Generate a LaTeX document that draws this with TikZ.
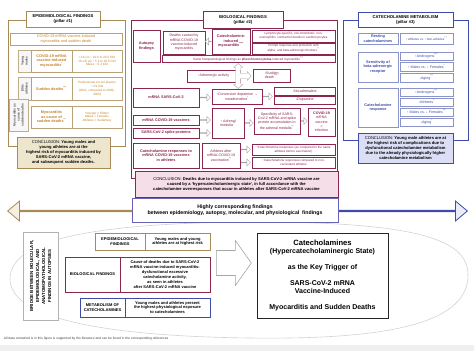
\documentclass[tikz,border=0pt]{standalone}
\usepackage{fontspec}
\setmainfont{Liberation Sans}
\usepackage{tikz}
\usetikzlibrary{arrows.meta,shapes.arrows,shadows,calc}

\definecolor{epiline}{RGB}{168,138,86}
\definecolor{epitext}{RGB}{196,132,42}
\definecolor{epifill}{RGB}{238,229,205}
\definecolor{bioline}{RGB}{140,38,78}
\definecolor{biofill}{RGB}{245,222,232}
\definecolor{metline}{RGB}{60,76,168}
\definecolor{metfill}{RGB}{220,222,245}
\definecolor{corrline}{RGB}{104,98,182}

\newcommand{\fsz}[2]{\fontsize{#1}{#2}\selectfont}

\begin{document}
\begin{tikzpicture}[
  x=1pt,y=-1pt,
  line width=0.5pt,
  every node/.style={align=center,inner sep=0.6pt,font=\fsz{3.6}{4.3}},
  wh/.style 2 args={minimum width=#1,minimum height=#2},
  pillar/.style={draw=#1,line width=0.9pt},
  pillartitle/.style={draw=#1,fill=white,line width=0.8pt,font=\fsz{4.2}{5}\bfseries,
    drop shadow={opacity=0.35,shadow xshift=0.8pt,shadow yshift=-0.8pt}},
  epicell/.style={draw=epiline!80,fill=white,line width=0.4pt,text=epitext},
  epilabel/.style={draw=epiline!70,fill=black!3,line width=0.4pt,
    font=\fsz{3.2}{3.9}\bfseries,text=black!70},
  biocell/.style={draw=bioline,fill=white,line width=0.4pt,text=bioline},
  metcell/.style={draw=metline!60,fill=white,line width=0.4pt,text=metline},
  hd/.style={font=\fsz{3.8}{4.5}\bfseries},
  sm/.style={font=\fsz{3.1}{3.8}},
  concl/.style 2 args={draw=#1,fill=#2,line width=0.8pt,font=\fsz{4.1}{5}\bfseries,
    drop shadow={opacity=0.4,shadow xshift=1pt,shadow yshift=-1pt}},
  sumcell/.style={draw=#1,fill=white,line width=0.7pt,font=\fsz{4}{4.9}\bfseries},
  hollow/.style={single arrow,draw=gray!70,fill=white,line width=0.4pt,
    minimum width=7,single arrow head extend=1.5pt,inner sep=0,anchor=tail},
  crossarrow/.style={draw=gray!70,fill=white,line width=0.4pt},
  bigarrow/.style={single arrow,line width=0.8pt,minimum width=20,
    single arrow head extend=6pt,single arrow tip angle=80,inner sep=0,anchor=tip}
]
  \useasboundingbox (0,0) rectangle (474,351);

  % Faint oval behind the summary part.
  \draw[gray!35,line width=0.6pt] (10,279) .. controls (10,240) and (90,224) .. (240,222)
    .. controls (420,221) and (468,240) .. (468,275)
    .. controls (468,320) and (400,340) .. (250,338)
    .. controls (90,336) and (10,315) .. (10,279);

  % Pillar 1: epidemiological findings.
  \draw[pillar=epiline] (8,20) rectangle (125,146);
  \node[pillartitle=epiline,wh={74}{16}] (epititle) at (63,19) {EPIDEMIOLOGICAL FINDINGS\\(pillar \#1)};
  \node[epicell,wh={112}{12},font=\fsz{3.8}{4.6}] (epiintro) at (66,39)
    {COVID-19 mRNA vaccine-induced\\myocarditis and sudden death};
  \node[epilabel,wh={22}{13},rotate=90] (epilaba) at (24.5,61) {Young\\males};
  \node[epicell,wh={41}{22},hd] (epimyo) at (51.5,61) {COVID-19 mRNA\\vaccine-induced\\myocarditis\textsuperscript{*}};
  \node[epicell,wh={50}{22},sm] (epimyoval) at (97,61)
    {<\,16 y/o ↑ 10.6 to 20.5 fold\\16--29 y/o ↑ 5.2 to 20.5 fold\\Males ↑ 6.4 fold};
  \node[epilabel,wh={23}{13},rotate=90] (epilabb) at (24.5,88.5) {Elite\\athletes};
  \node[epicell,wh={41}{23},hd] (episud) at (51.5,88.5) {Sudden deaths\textsuperscript{***}};
  \node[epicell,wh={50}{23},sm] (episudval) at (97,88.5)
    {Professional soccer players\\↑ 4.9 fold\\(2021, compared to 2009--\\2020)};
  \node[epilabel,wh={32}{19},rotate=90] (epilabc) at (18.5,115) {Myocarditis as\\cause of\\sudden deaths};
  \node[epicell,wh={41}{22},hd] (epicause) at (51.5,117) {Myocarditis\\as cause of\\sudden deaths\textsuperscript{**}};
  \node[epicell,wh={50}{22},sm] (epicauseval) at (97,117)
    {Younger > Elders\\Males > Females\\Athletes > Sedentary};
  \node[concl={epiline}{epifill},wh={93}{31}] (episum) at (63.5,152.5)
    {{\mdseries CONCLUSION:} Young males and\\young athletes are at the\\highest risk of myocarditis induced by\\SARS-CoV-2 mRNA vaccine,\\and subsequent sudden deaths.};

  % Pillar 2: biological findings.
  \draw[pillar=bioline] (131,20) rectangle (337,178);
  \node[pillartitle=bioline,wh={80}{17}] (biotitle) at (243,19.5) {BIOLOGICAL FINDINGS\\(pillar \#2)};
  \node[biocell,wh={27}{32},hd] (autopsy) at (146.5,46) {Autopsy\\findings};
  \node[biocell,wh={42}{23}] (deaths) at (184,42.5) {Deaths caused by\\mRNA COVID-19\\vaccine-induced\\myocarditis};
  \node[biocell,wh={38}{25},hd] (catmyo) at (231,41.5) {Catecholamine-\\induced\\myocarditis\textsuperscript{****}};
  \node[biocell,wh={83}{12},sm] (lympho) at (293.5,36)
    {Lymphocyte-specific, non-thrombotic, non-\\eosinophilic, contraction bands in cardiomyocytes};
  \node[biocell,wh={83}{11},sm] (prompt) at (293.5,48.5)
    {Prompt response and protection with\\alpha- and beta-adrenergic blockers\textsuperscript{**}};
  \node[biocell,wh={173}{7},sm] (histo) at (248.5,59)
    {Same histopathological findings as \textbf{pheochromocytoma}-induced myocarditis\textsuperscript{****}};
  \node[hollow,shape border rotate=180,minimum height=6] (toDeaths) at ($(catmyo.west)+(-0.5,0)$) {};

  \node[biocell,wh={53}{12}] (adren) at (213.5,76) {↑Adrenergic activity};
  \draw[crossarrow,shift={(adren.east)}] (-2,-12.5) -- (2.5,-8.5) -- (0.5,-8.5) -- (0.5,-2.5)
    -- (7,-2.5) -- (7,-4.5) -- (11,0) -- (7,4.5) -- (7,2.5) -- (0.5,2.5) -- (0.5,8.5)
    -- (2.5,8.5) -- (-2,12.5) -- (-6.5,8.5) -- (-4.5,8.5) -- (-4.5,-8.5) -- (-6.5,-8.5) -- cycle;
  \node[biocell,wh={37}{13}] (sudden) at (271.5,75.5) {↑Sudden\\death\textsuperscript{****}};

  \node[biocell,wh={66}{19},hd] (mrnasars) at (166,97.5) {mRNA SARS-CoV-2};
  \node[biocell,wh={50}{15}] (conv) at (237,96.5) {↑Conversion dopamine →\\noradrenaline\textsuperscript{*}};
  \node[biocell,wh={61}{8}] (nor) at (304.5,91) {↑Noradrenaline};
  \node[biocell,wh={61}{8}] (dopa) at (304.5,100) {↓Dopamine};
  \node[hollow,minimum height=10] (toConv) at ($(mrnasars.east)+(1,0)$) {};
  \node[hollow,minimum height=9] (toNor) at ($(conv.east)+(1,0)$) {};

  \node[biocell,wh={66}{10},hd] (vacc) at (166,120) {mRNA COVID-19 vaccines};
  \node[biocell,wh={66}{10},hd] (spike) at (166,133) {SARS-CoV-2 spike proteins};
  \node[biocell,wh={32}{30}] (medulla) at (228,123) {↑ Adrenal\\medulla\textsuperscript{**}};
  \node[biocell,wh={46}{26}] (spec) at (277,121)
    {Specificity of SARS-\\CoV-2 mRNA and spike\\protein accumulation in\\the adrenal medulla\textsuperscript{**}};
  \node[biocell,wh={27}{28}] (covinf) at (321.5,122) {\textbf{COVID-19}\\mRNA\\vaccine\\≈\\infection};
  \node[hollow,minimum height=10] (vaccToMed) at ($(vacc.east)+(1,0)$) {};
  \node[hollow,minimum height=10] (spikeToMed) at ($(spike.east)+(1,0)$) {};
  \node[hollow,minimum height=8] (toSpec) at ($(medulla.east)+(1,0)$) {};
  \node[hollow,minimum height=6] (toInf) at ($(spec.east)+(1,0)$) {};

  \node[biocell,wh={66}{25},hd] (athresp) at (166,155.5) {Catecholamine responses to\\mRNA COVID-19 vaccines\\in athletes};
  \node[biocell,wh={38}{25}] (athvac) at (221,155.5) {Athletes after\\mRNA-COVID-19\\vaccination\textsuperscript{**}};
  \node[biocell,wh={83}{11},sm] (respsame) at (293.5,149.5)
    {↑Catecholamine responses (as compared to the same\\athletes before vaccination)};
  \node[biocell,wh={83}{11},sm] (respnon) at (293.5,162.5)
    {↑Catecholamine responses compared to non-\\vaccinated athletes};
  \node[hollow,minimum height=9] (toSame) at ($(athvac.east |- respsame.west)+(1,0)$) {};
  \node[hollow,minimum height=9] (toNon) at ($(athvac.east |- respnon.west)+(1,0)$) {};

  \node[concl={bioline}{biofill},wh={203}{26}] (biosum) at (236.5,184)
    {{\mdseries CONCLUSION:} Deaths due to myocarditis induced by SARS-CoV-2 mRNA vaccine are\\caused by a `hypercatecholaminergic state', in full accordance with the\\catecholamine overresponses that occur in athletes after SARS-CoV-2 mRNA vaccine};

  % Pillar 3: catecholamine metabolism.
  \draw[pillar=metline] (343,20) rectangle (468,140);
  \node[pillartitle=metline,wh={95}{15}] (mettitle) at (405.5,19.5) {CATECHOLAMINE METABOLISM\\(pillar \#3)};
  \node[metcell,wh={40}{11},hd] (resting) at (378,38.5) {Resting\\catecholamines};
  \node[metcell,wh={53}{11},sm] (restingval) at (426.5,38.5) {↑ Athletes vs. ↓Non-athletes\textsuperscript{***}};
  \node[metcell,wh={40}{30},hd] (sensit) at (378,67) {Sensitivity of\\beta-adrenergic\\receptor};
  \node[metcell,wh={53}{8}] (sensa) at (426.5,56) {↑Androgens\textsuperscript{***}};
  \node[metcell,wh={53}{9}] (sensb) at (426.5,66.5) {↑ Males vs. ↓ Females\textsuperscript{*}};
  \node[metcell,wh={53}{9}] (sensc) at (426.5,77.5) {↓Aging\textsuperscript{***}};
  \node[metcell,wh={40}{39},hd] (catresp) at (378,107.5) {Catecholamine\\response};
  \node[metcell,wh={53}{8}] (respa) at (426.5,92) {↑Androgens\textsuperscript{***}};
  \node[metcell,wh={53}{8}] (respb) at (426.5,102) {↑Athletes\textsuperscript{*}};
  \node[metcell,wh={53}{8}] (respc) at (426.5,112) {↑ Males vs. ↓ Females\textsuperscript{***}};
  \node[metcell,wh={53}{8}] (respd) at (426.5,122) {↓Aging\textsuperscript{*}};
  \node[concl={metline}{metfill},wh={95}{30}] (metsum) at (405.5,148)
    {{\mdseries CONCLUSION:} Young male athletes are at\\the highest risk of complications due to\\dysfunctional catecholamine metabolism\\due to the already physiologically higher\\catecholamine metabolism};

  % Band of corresponding findings, with arrows to both sides.
  \node[bigarrow,draw=epiline,fill=epifill!60,shape border rotate=180,minimum height=128] (toepi) at (7,211) {};
  \node[bigarrow,draw=metline,fill=metfill!60,minimum height=133] (tomet) at (468,211) {};
  \node[draw=corrline,fill=white,line width=0.8pt,wh={206}{24},font=\fsz{5.2}{6.4}\bfseries,
    drop shadow={opacity=0.3,shadow xshift=1pt,shadow yshift=-1pt}] (corresp) at (235,210)
    {Highly corresponding findings\\between epidemiology, autopsy, molecular, and physiological\ \ findings};

  % Summary of the three pillars and the key statement.
  \node[draw=gray!60,fill=white,line width=0.6pt,wh={88}{35},rotate=90,font=\fsz{4.4}{6}\bfseries] (bridge) at (40.5,276)
    {BRIDGE BETWEEN MOLECULAR,\\EPIDEMIOLOGICAL, AND\\ANATOMOPATHOLOGICAL\\FINDINGS IN AUTOPSIES};
  \node[sumcell=epiline,wh={50}{17}] (sumepi) at (120,241.5) {EPIDEMIOLOGICAL\\FINDINGS};
  \node[sumcell=epiline,wh={65}{17}] (sumepival) at (177.5,241.5) {Young males and young\\athletes are at highest risk};
  \node[sumcell=bioline,wh={55}{35}] (sumbio) at (92.5,274.5) {BIOLOGICAL FINDINGS};
  \node[sumcell=bioline,wh={90}{35}] (sumbioval) at (165,274.5)
    {Cause of deaths due to SARS-CoV-2\\mRNA vaccine-induced myocarditis:\\dysfunctional excessive\\catecholamine activity,\\as seen in athletes\\after SARS-CoV-2 mRNA vaccine};
  \node[sumcell=metline,wh={45}{19}] (summet) at (102.5,307.5) {METABOLISM OF\\CATECHOLAMINES};
  \node[sumcell=metline,wh={85}{19}] (summetval) at (167.5,307.5)
    {Young males and athletes present\\the highest physiological exposure\\to catecholamines};

  \node[draw=black!85,fill=white,line width=1pt,wh={131}{85},font=\fsz{7}{8}\bfseries] (key) at (322.5,275.5)
    {{\fsz{7.6}{8}Catecholamines}\\(Hypercatecholaminergic State)\\[8pt]as the Key Trigger of\\[8pt]SARS-CoV-2 mRNA\\Vaccine-Induced\\[8pt]Myocarditis and Sudden Deaths};
  \draw[draw=gray!70,fill=white,line width=0.6pt,shift={($(sumbioval.east)+(6,-11.5)$)}]
    (0,-12.5) -- (19,-12.5) -- (19,-22.5) -- (35,0) -- (19,22.5) -- (19,12.5) -- (0,12.5) -- cycle;

  % Footnote and bottom strip.
  \node[anchor=west,font=\fsz{3.3}{4},text=black!75] (note) at (3,339)
    {All data contained is in this figure is supported by the literature and can be found in the corresponding references};
  \fill[gray!12] (0,345) rectangle (474,351);
\end{tikzpicture}
\end{document}
